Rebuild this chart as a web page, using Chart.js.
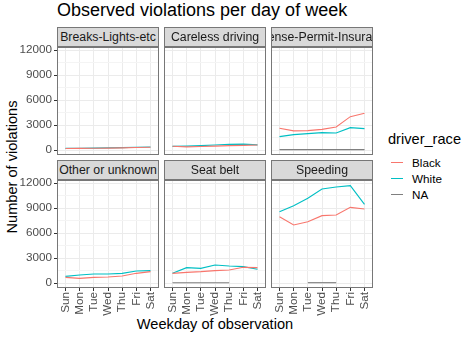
<!DOCTYPE html>
<html lang="en">
<head>
    <meta charset="UTF-8">
    <title>Observed violations per day of week</title>
    <script src="https://cdn.jsdelivr.net/npm/chart.js"></script>
    <style>
        body {
            margin: 0;
            padding: 0;
            background: #ffffff;
            font-family: 'Liberation Sans', Arial, sans-serif;
        }

        .page {
            position: relative;
            width: 474px;
            height: 338px;
            overflow: hidden;
        }

        .page canvas {
            position: absolute;
            left: 0;
            top: 0;
        }

        .title {
            position: absolute;
            left: 57px;
            top: 0px;
            font-size: 18px;
            color: #000;
            white-space: nowrap;
        }

        .strip {
            position: absolute;
            box-sizing: border-box;
            height: 20px;
            background: #d9d9d9;
            border: 1px solid #777;
            display: flex;
            justify-content: center;
            align-items: center;
            overflow: hidden;
            white-space: nowrap;
            font-size: 12.3px;
            color: #1a1a1a;
            z-index: 5;
        }

        .axis-title {
            position: absolute;
            font-size: 14.6px;
            color: #000;
            white-space: nowrap;
        }

        .legend {
            position: absolute;
            left: 388px;
            top: 131px;
        }

        .legend-title {
            font-size: 14.6px;
            line-height: 17px;
            margin-bottom: 6px;
        }

        .legend-item {
            display: flex;
            align-items: center;
            height: 16.3px;
            font-size: 11.7px;
        }

        .legend-item span {
            display: inline-block;
            width: 12px;
            height: 0;
            margin: 0 9px 0 3px;
            border-top: 1px solid;
        }
    </style>
</head>
<body>
    <div class="page" id="page">
        <div class="title">Observed violations per day of week</div>
        <div class="axis-title" style="left: 215px; top: 316px; transform: translateX(-50%);">Weekday of observation</div>
        <div class="axis-title" style="left: 12px; top: 167px; transform: translate(-50%, -50%) rotate(-90deg);">Number of violations</div>
        <div class="legend">
            <div class="legend-title">driver_race</div>
            <div class="legend-item"><span style="border-color:#F8766D"></span>Black</div>
            <div class="legend-item"><span style="border-color:#00BFC4"></span>White</div>
            <div class="legend-item"><span style="border-color:#7F7F7F"></span>NA</div>
        </div>
    </div>

    <script>
        const days = ['Sun', 'Mon', 'Tue', 'Wed', 'Thu', 'Fri', 'Sat'];
        const violations = ['Breaks-Lights-etc', 'Careless driving', 'License-Permit-Insurance',
                            'Other or unknown', 'Seat belt', 'Speeding'];

        const yTicks = [0, 3000, 6000, 9000, 12000];
        const yMinorTicks = [1500, 4500, 7500, 10500];

        // values per violation, one array per race
        const breaksBlack = [180, 190, 210, 230, 260, 300, 330];
        const breaksWhite = [200, 210, 230, 250, 280, 330, 360];
        const breaksNA = [null, null, null, null, null, null, null];

        const carelessBlack = [450, 380, 420, 470, 520, 560, 600];
        const carelessWhite = [430, 460, 520, 600, 680, 700, 620];
        const carelessNA = [null, null, null, null, null, null, null];

        const licenseBlack = [2600, 2300, 2320, 2480, 2760, 4000, 4400];
        const licenseWhite = [1600, 1840, 1960, 2080, 2040, 2680, 2560];
        const licenseNA = [40, 40, 40, 40, 40, 40, 40];

        const otherBlack = [680, 560, 680, 720, 840, 1160, 1360];
        const otherWhite = [800, 960, 1080, 1080, 1160, 1440, 1480];
        const otherNA = [null, null, null, null, null, null, null];

        const seatbeltBlack = [1160, 1280, 1360, 1480, 1560, 1880, 1840];
        const seatbeltWhite = [1160, 1840, 1760, 2160, 2040, 1960, 1640];
        const seatbeltNA = [30, 30, 30, 30, 30, null, null];

        const speedingBlack = [7960, 6960, 7360, 8080, 8160, 9080, 8880];
        const speedingWhite = [8560, 9280, 10160, 11280, 11520, 11680, 9440];
        const speedingNA = [null, null, 40, 40, 40, null, null];

        const panelData = [
            [breaksBlack, breaksWhite, breaksNA],
            [carelessBlack, carelessWhite, carelessNA],
            [licenseBlack, licenseWhite, licenseNA],
            [otherBlack, otherWhite, otherNA],
            [seatbeltBlack, seatbeltWhite, seatbeltNA],
            [speedingBlack, speedingWhite, speedingNA]
        ];

        const colLeft = [57, 164, 271];
        const rowTop = [47, 180];
        const panelW = 102;
        const panelH = 108;
        const W = 474, H = 338;

        Chart.defaults.font.family = "'Liberation Sans', Arial, sans-serif";
        Chart.defaults.color = '#4d4d4d';

        const panelBorder = {
            id: 'panelBorder',
            afterDraw(chart) {
                const a = chart.chartArea;
                const ctx = chart.ctx;
                ctx.save();
                ctx.strokeStyle = '#777';
                ctx.lineWidth = 1;
                ctx.strokeRect(Math.round(a.left) + 0.5, Math.round(a.top) + 0.5,
                               Math.round(a.right - a.left) - 1, Math.round(a.bottom - a.top) - 1);
                ctx.restore();
            }
        };

        function toPoints(values) {
            return values.map((v, i) => ({ x: i, y: v }));
        }

        const page = document.getElementById('page');

        violations.forEach((name, idx) => {
            const col = idx % 3;
            const row = Math.floor(idx / 3);
            const showY = col === 0;
            const showX = row === 1;
            const yAxisW = 40;
            const xAxisH = 35;

            // strip label
            const strip = document.createElement('div');
            strip.className = 'strip';
            strip.style.left = colLeft[col] + 'px';
            strip.style.top = (rowTop[row] - 20) + 'px';
            strip.style.width = panelW + 'px';
            strip.textContent = name;
            page.appendChild(strip);

            const canvas = document.createElement('canvas');
            canvas.width = W;
            canvas.height = H;
            page.appendChild(canvas);

            const [black, white, na] = panelData[idx];

            new Chart(canvas.getContext('2d'), {
                type: 'line',
                data: {
                    datasets: [
                        { label: 'Black', data: toPoints(black), borderColor: '#F8766D' },
                        { label: 'White', data: toPoints(white), borderColor: '#00BFC4' },
                        { label: 'NA', data: toPoints(na), borderColor: '#7F7F7F' }
                    ]
                },
                options: {
                    responsive: false,
                    animation: false,
                    devicePixelRatio: 1,
                    events: [],
                    layout: {
                        padding: {
                            left: colLeft[col] - (showY ? yAxisW : 0),
                            top: rowTop[row],
                            right: W - colLeft[col] - panelW,
                            bottom: H - rowTop[row] - panelH - (showX ? xAxisH : 0)
                        }
                    },
                    elements: {
                        line: { borderWidth: 1.1, tension: 0 },
                        point: { radius: 0 }
                    },
                    plugins: {
                        legend: { display: false },
                        tooltip: { enabled: false }
                    },
                    scales: {
                        x: {
                            type: 'linear',
                            min: -0.6,
                            max: 6.6,
                            afterBuildTicks: s => { s.ticks = days.map((d, i) => ({ value: i })); },
                            afterFit: s => { s.height = showX ? xAxisH : 0; },
                            border: { display: false },
                            grid: {
                                color: '#ebebeb',
                                lineWidth: 1,
                                drawTicks: showX,
                                tickLength: 3,
                                tickColor: '#333'
                            },
                            ticks: {
                                display: showX,
                                autoSkip: false,
                                minRotation: 90,
                                maxRotation: 90,
                                padding: 1,
                                font: { size: 11.7 },
                                color: '#4d4d4d',
                                callback: v => days[v]
                            }
                        },
                        y: {
                            min: -600,
                            max: 12360,
                            afterBuildTicks: s => {
                                s.ticks = yTicks.concat(yMinorTicks).sort((a, b) => a - b).map(v => ({ value: v }));
                            },
                            afterFit: s => { s.width = showY ? yAxisW : 0; },
                            border: { display: false },
                            grid: {
                                color: c => (c.tick && yTicks.includes(c.tick.value)) ? '#ebebeb' : '#f4f4f4',
                                lineWidth: 1,
                                drawTicks: showY,
                                tickLength: 3,
                                tickColor: c => (c.tick && yTicks.includes(c.tick.value)) ? '#333' : 'rgba(0,0,0,0)'
                            },
                            ticks: {
                                display: showY,
                                autoSkip: false,
                                padding: 2,
                                font: { size: 11.7 },
                                color: '#4d4d4d',
                                callback: v => yTicks.includes(v) ? v : ''
                            }
                        }
                    }
                },
                plugins: [panelBorder]
            });
        });
    </script>
</body>
</html>
